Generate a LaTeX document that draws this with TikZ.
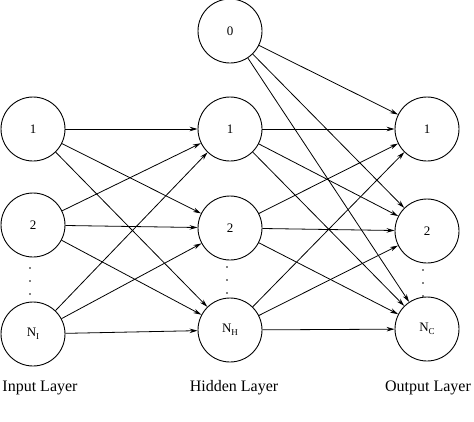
\documentclass[tikz,border=0pt]{standalone}
\usepackage{fontspec}
\setmainfont{Liberation Serif}
\usetikzlibrary{arrows.meta}
\newcommand{\lowsub}[1]{\raisebox{-0.45ex}{\fontsize{9}{9}\selectfont #1}}
\begin{document}
\begin{tikzpicture}[x=1pt,y=-1pt,
  neuron/.style={draw, circle, line width=0.9pt, minimum size=64pt, inner sep=0pt, font=\fontsize{13}{13}\selectfont},
  conn/.style={line width=0.8pt, -{Stealth[length=8pt,width=4.5pt]}},
  layerlabel/.style={font=\fontsize{16}{16}\selectfont, inner sep=0pt},
  dot/.style={fill, circle, inner sep=0pt, minimum size=1.8pt}]
\useasboundingbox (0,0) rectangle (474,421);
% input layer
\node[neuron] (i1) at (33,129) {1};
\node[neuron] (i2) at (33,225) {2};
\node[neuron] (iN) at (33,334) {N\lowsub{I}};
% hidden layer
\node[neuron] (h0) at (230,31) {0};
\node[neuron] (h1) at (230,129) {1};
\node[neuron] (h2) at (230,228) {2};
\node[neuron] (hN) at (230,330) {N\lowsub{H}};
% output layer
\node[neuron] (o1) at (427,129) {1};
\node[neuron] (o2) at (427,231) {2};
\node[neuron] (oN) at (427,329) {N\lowsub{C}};
% dots
\foreach \x/\ya in {30/268, 227/267, 423/270} {
  \node[dot] (d\x a) at (\x,\ya) {};
  \node[dot] (d\x b) at (\x,\ya+13) {};
  \node[dot] (d\x c) at (\x,\ya+26) {};
}
% connections input -> hidden
\foreach \s in {i1,i2,iN} {
  \foreach \t in {h1,h2,hN} {
    \draw[conn] (\s) -- (\t);
  }
}
% connections hidden -> output
\foreach \s in {h0,h1,h2,hN} {
  \foreach \t in {o1,o2,oN} {
    \draw[conn] (\s) -- (\t);
  }
}
% labels
\node[layerlabel] (li) at (40,388) {Input Layer};
\node[layerlabel] (lh) at (234,388) {Hidden Layer};
\node[layerlabel] (lo) at (428,388) {Output Layer};
\end{tikzpicture}
\end{document}
